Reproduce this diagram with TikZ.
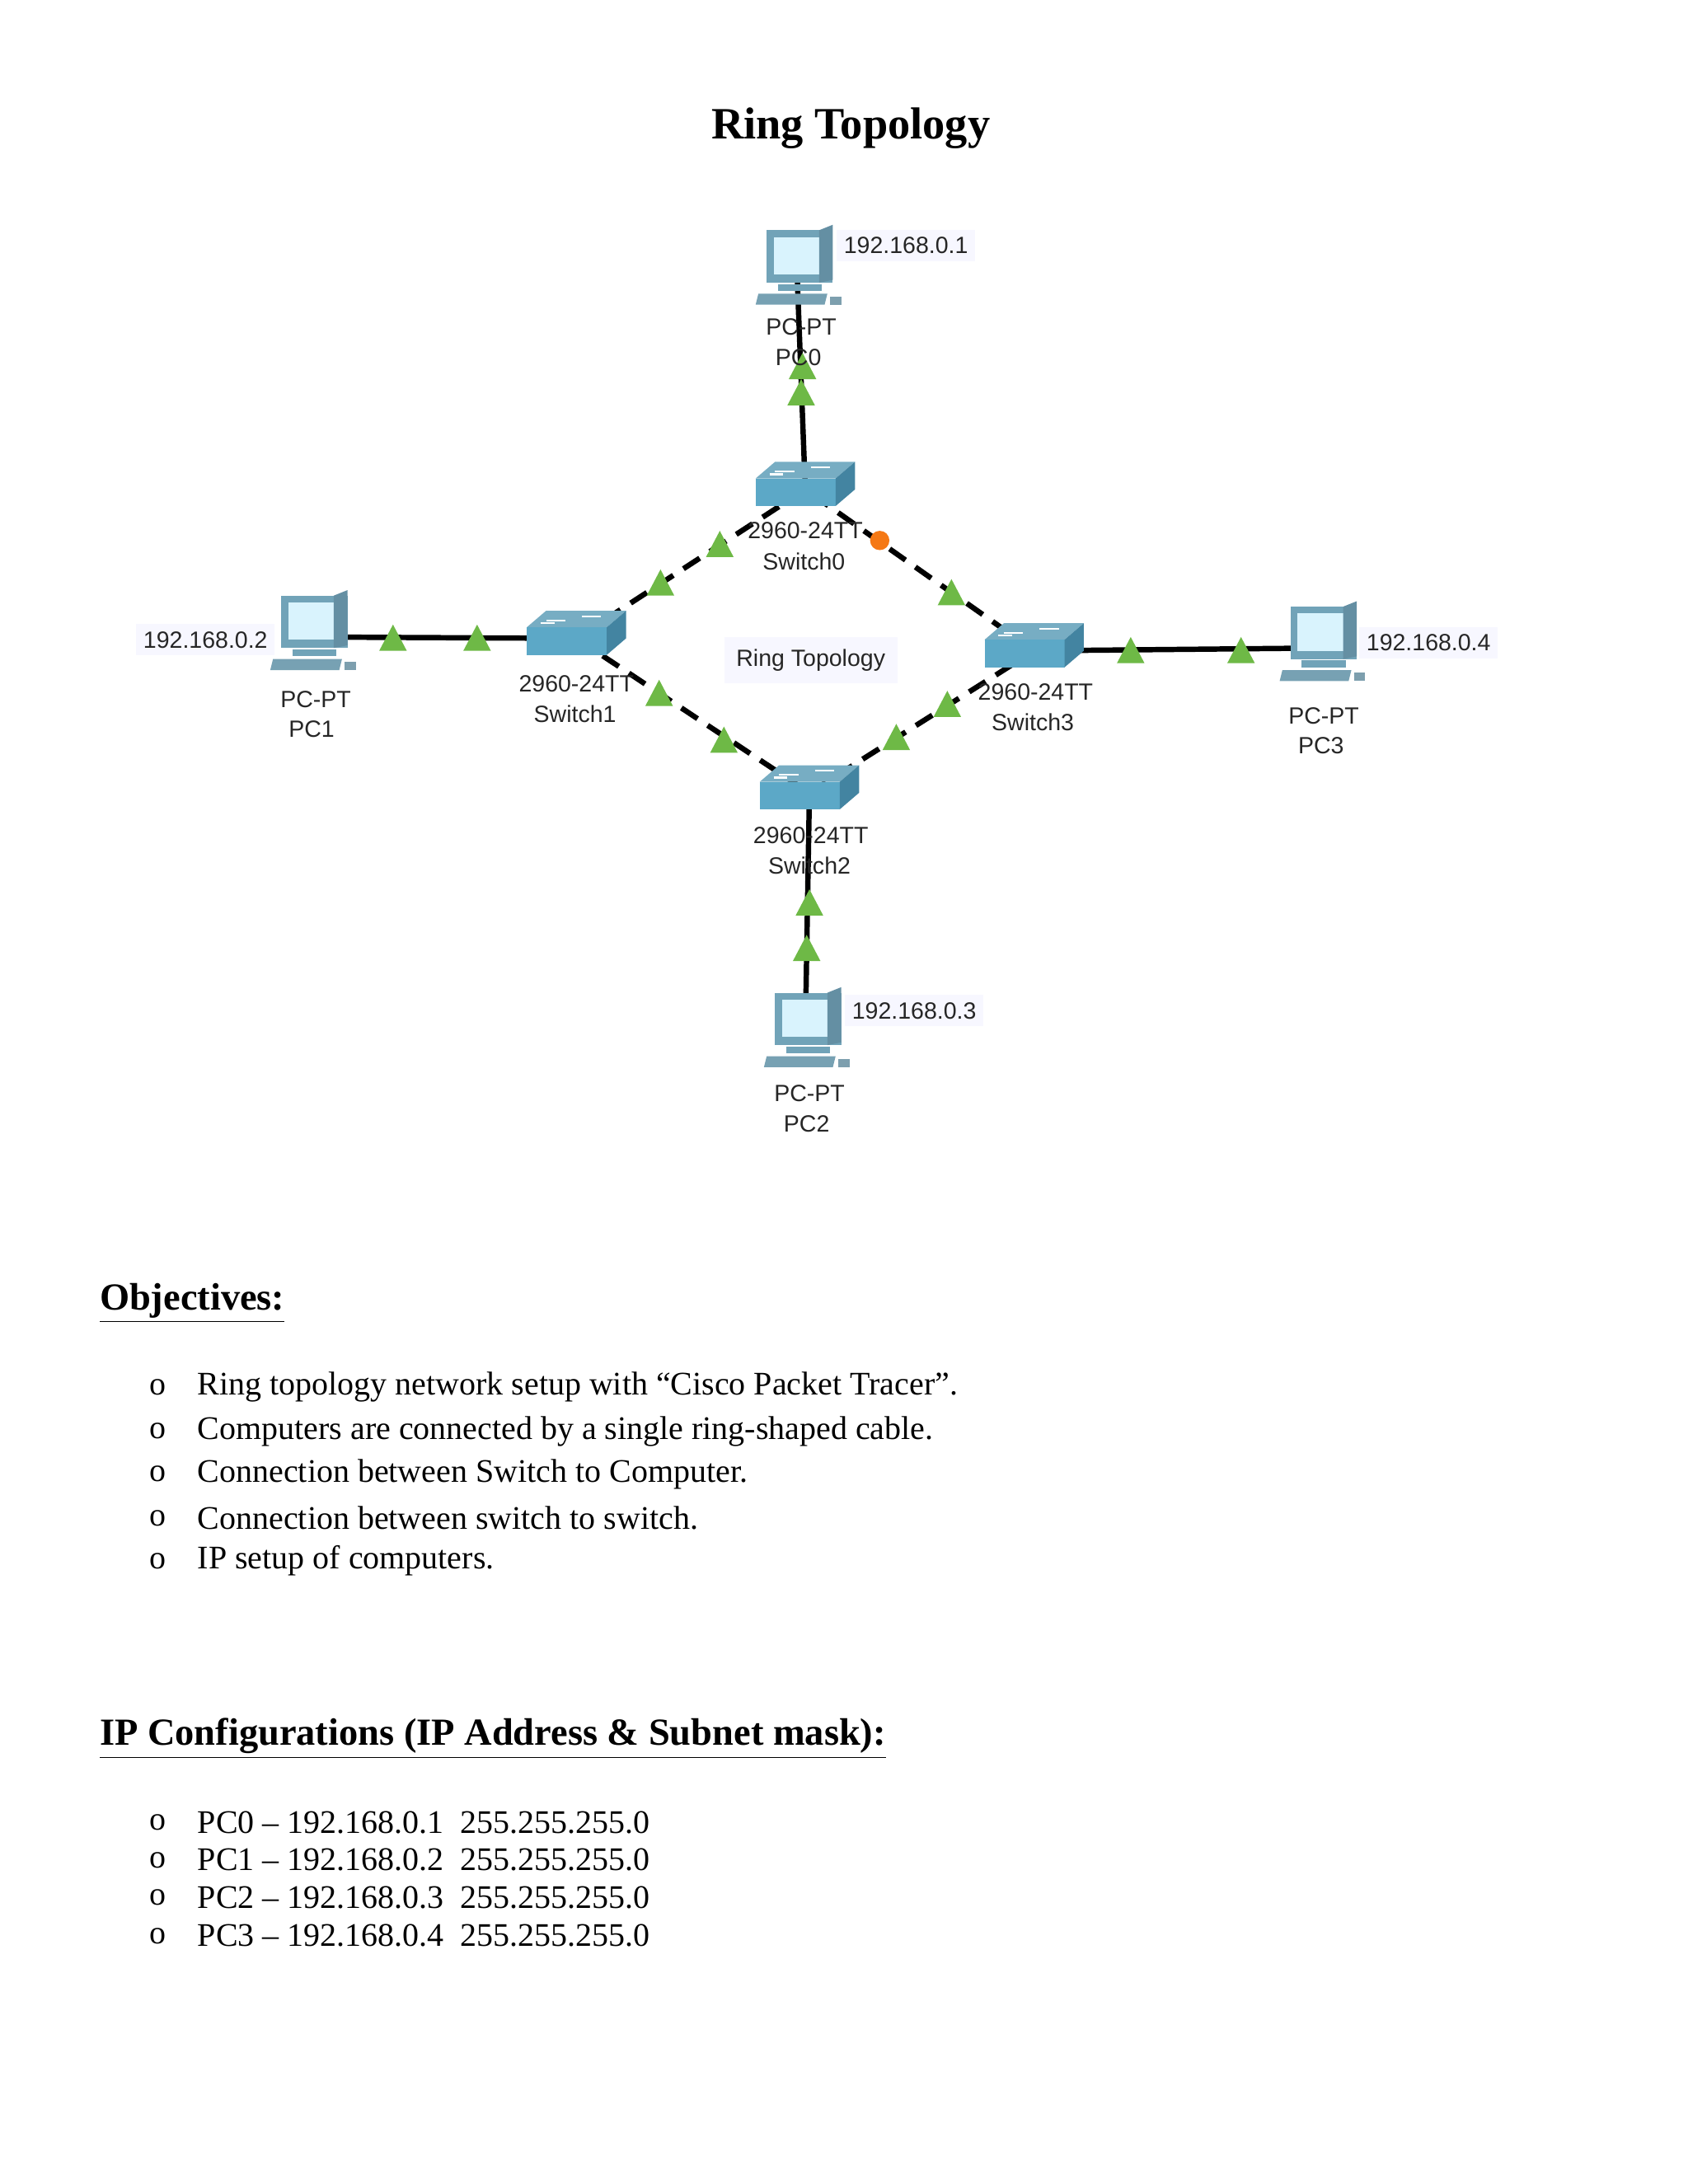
\documentclass[tikz,border=0pt]{standalone}
\usepackage{fontspec}
\setmainfont{Liberation Serif}
\newfontfamily\pt{Liberation Sans}
\definecolor{lgreen}{RGB}{110,185,70}
\definecolor{lorange}{RGB}{245,120,20}
\begin{document}
\begin{tikzpicture}[x=0.02cm,y=-0.02cm,
 lbl/.style={font=\pt\fontsize{9.7}{11}\selectfont,text=black!85,inner sep=1pt},
 ip/.style={lbl,fill=blue!3,inner sep=3pt},
 link/.style={line width=2.2pt,black},
 ring/.style={line width=2.2pt,black,dash pattern=on 8pt off 5pt},
 tri/.style={fill=lgreen,draw=none},
 body/.style={font=\fontsize{13.6}{15}\selectfont,anchor=west,inner sep=0},
 hd/.style={font=\bfseries\fontsize{15.8}{17}\selectfont,anchor=west,inner sep=0},
 pics/pc/.style={code={
   \fill[cyan!40!gray] (-22,-30) rectangle (26,8);
   \fill[cyan!15!white] (-17,-25) rectangle (16,2);
   \fill[cyan!50!gray!80!black] (16,-30) -- (26,-34) -- (26,6) -- (16,8) -- cycle;
   \fill[cyan!40!gray] (-14,9) rectangle (18,14);
   \fill[cyan!35!gray] (-28,16) -- (22,16) -- (20,24) -- (-30,24) -- cycle;
   \fill[cyan!30!gray] (24,18) rectangle (32,24);
 }},
 pics/sw/.style={code={
   \fill[cyan!45!gray!90!white] (-36,-8) -- (-22,-20) -- (36,-20) -- (22,-8) -- cycle;
   \fill[cyan!55!gray] (-36,-8) rectangle (22,12);
   \fill[cyan!60!black] (22,-8) -- (36,-20) -- (36,0) -- (22,12) -- cycle;
   \draw[white,line width=0.8pt] (-22,-13) -- (-8,-13) (4,-16) -- (18,-16) (-26,-11) -- (-16,-11);
 }}]
\useasboundingbox (0,0) rectangle (1224,1584);
\node[font=\bfseries\fontsize{18.5}{22}\selectfont] (title) at (617,93) {Ring Topology};
% nodes
\coordinate (pc0) at (578,197); \coordinate (pc1) at (226,462);
\coordinate (pc2) at (584,750); \coordinate (pc3) at (958,470);
\coordinate (s0) at (584,355); \coordinate (s1) at (418,463);
\coordinate (s2) at (587,575); \coordinate (s3) at (750,472);
% links
\draw[link] (pc0) -- (s0);
\draw[link] (pc1) -- (s1);
\draw[link] (s3) -- (pc3);
\draw[link] (s2) -- (pc2);
\draw[ring] (s0) -- (s1);
\draw[ring] (s1) -- (s2);
\draw[ring] (s2) -- (s3);
\draw[ring] (s3) -- (s0);
\foreach \p in {pc0,pc1,pc2,pc3} \pic at (\p) {pc};
\foreach \p in {s0,s1,s2,s3} \pic at (\p) {sw};
% link lights
\foreach \x/\y in {581/285,582/266,285/463,346/463,479/423,522/395,690/430,478/503,525/537,650/535,687/511,820/472,900/472,587/655,585/688}
  \fill[tri] (\x-10,\y+9) -- (\x,\y-10) -- (\x+10,\y+9) -- cycle;
\fill[lorange] (638,392) circle (7);
% labels
\node[lbl] (l0a) at (581,237) {PC-PT}; \node[lbl] (l0b) at (579,259) {PC0};
\node[ip] (ip0) at (657,178) {192.168.0.1};
\node[lbl] (l1a) at (229,507) {PC-PT}; \node[lbl] (l1b) at (226,529) {PC1};
\node[ip] (ip1) at (149,464) {192.168.0.2};
\node[lbl] (l2a) at (587,793) {PC-PT}; \node[lbl] (l2b) at (585,815) {PC2};
\node[ip] (ip2) at (663,733) {192.168.0.3};
\node[lbl] (l3a) at (960,519) {PC-PT}; \node[lbl] (l3b) at (958,541) {PC3};
\node[ip] (ip3) at (1036,466) {192.168.0.4};
\node[lbl] (s0a) at (584,385) {2960-24TT}; \node[lbl] (s0b) at (583,407) {Switch0};
\node[lbl] (s1a) at (418,496) {2960-24TT}; \node[lbl] (s1b) at (417,518) {Switch1};
\node[lbl] (s2a) at (588,606) {2960-24TT}; \node[lbl] (s2b) at (587,628) {Switch2};
\node[lbl] (s3a) at (751,502) {2960-24TT}; \node[lbl] (s3b) at (749,524) {Switch3};
\node[ip,inner sep=5pt] (rt) at (588,479) {Ring Topology};
% text
\node[hd] (obj) at (72,945) {\underline{Objectives:}};
\foreach \y/\t [count=\i] in {1006/{Ring topology network setup with “Cisco Packet Tracer”.},1038/{Computers are connected by a single ring-shaped cable.},1069/{Connection between Switch to Computer.},1101/{Connection between switch to switch.},1132/{IP setup of computers.}}{
  \node[body] (ob\i) at (143,\y) {\t};
  \node[body] (obb\i) at (108,\y) {o};}
\node[hd] (ipc) at (72,1261) {\underline{IP Configurations (IP Address \& Subnet mask):}};
\foreach \y/\t [count=\i] in {1322/{PC0 – 192.168.0.1\ \ 255.255.255.0},1349/{PC1 – 192.168.0.2\ \ 255.255.255.0},1376/{PC2 – 192.168.0.3\ \ 255.255.255.0},1404/{PC3 – 192.168.0.4\ \ 255.255.255.0}}{
  \node[body] (ic\i) at (143,\y) {\t};
  \node[body] (icb\i) at (108,\y) {o};}
\end{tikzpicture}
\end{document}
